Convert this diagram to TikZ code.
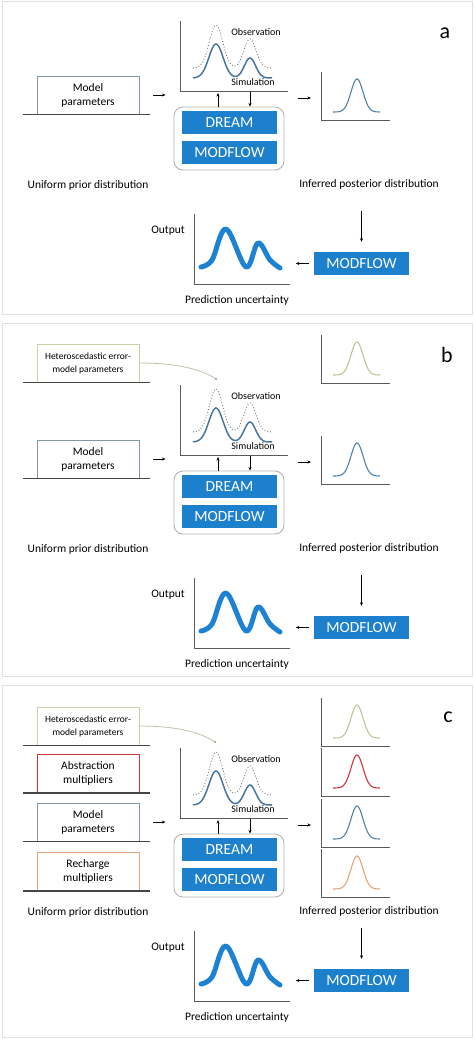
\documentclass[tikz,border=0pt]{standalone}
\usepackage{fontspec}
\setmainfont{Carlito}
\usetikzlibrary{arrows.meta}
\definecolor{bluec}{RGB}{28,128,205}
\definecolor{outc}{RGB}{30,130,210}
\definecolor{simc}{RGB}{72,118,158}
\definecolor{obsc}{RGB}{120,120,130}
\definecolor{postbluec}{RGB}{80,130,170}
\definecolor{greenc}{RGB}{185,200,150}
\definecolor{heteroc}{RGB}{200,208,165}
\definecolor{heterolinec}{RGB}{190,195,170}
\definecolor{redc}{RGB}{210,50,60}
\definecolor{orangec}{RGB}{228,165,125}
\definecolor{modelc}{RGB}{130,150,170}
\definecolor{panelc}{RGB}{225,225,225}
\definecolor{groupc}{RGB}{180,180,180}
\definecolor{basec}{RGB}{70,70,70}
\definecolor{axisc}{RGB}{90,90,90}
\tikzset{
  every node/.style={inner sep=0pt},
  lab/.style={font=\fontsize{11.5}{14}\selectfont},
  small/.style={font=\fontsize{10}{13}\selectfont},
  priorbox/.style={draw, line width=0.9pt, minimum width=102pt, minimum height=38pt, align=center, font=\fontsize{11.5}{14}\selectfont},
  hetbox/.style={priorbox, font=\fontsize{9.5}{13}\selectfont},
  groundline/.style={draw=basec, line width=1.2pt},
  axis/.style={draw=axisc, line width=0.9pt},
  bluebox/.style={fill=bluec, text=white, minimum width=95pt, minimum height=23pt, font=\fontsize{15.5}{18}\selectfont},
  groupbox/.style={draw=groupc, rounded corners=9pt, line width=0.9pt, minimum width=110pt, minimum height=63pt},
  arr/.style={-{Stealth[length=3.5pt,width=3pt]}, line width=0.7pt, draw=black},
  panelbox/.style={draw=panelc, line width=1pt},
  panellabel/.style={font=\fontsize{22}{24}\selectfont},
}
\newcommand\postplot[3]{%
  \coordinate (#1) at (321,#2+48);
  \draw[axis] (321,#2) -- (#1) -- (390,#2+48);
  \draw[#3, line width=1.1pt] plot[domain=333:380,samples=60] (\x,{#2+40-33*exp(-((\x-357)/8.5)^2)});
}
\newcommand\corepanel[3]{%
\begin{scope}[shift={(0,#2)}]
  \node[priorbox, draw=modelc] (#1-model) at (88,95) {Model\\parameters};
  \draw[groundline] ([xshift=-14pt]#1-model.south west) -- ([xshift=11pt]#1-model.south east);
  \node[lab] (#1-prior) at (88,185) {Uniform prior distribution};
  \coordinate (#1-obs) at (180,91);
  \draw[axis] (180,21) -- (#1-obs) -- (288,91);
  \draw[dotted, obsc, line width=0.9pt] plot[domain=193:272, samples=80] (\x, {68-43*exp(-((\x-216)/9.5)^2)-29*exp(-((\x-250)/8.5)^2)});
  \draw[simc, line width=1.5pt] plot[domain=193:272, samples=80] (\x,{78-34*exp(-((\x-216)/10)^2)-20*exp(-((\x-250)/8)^2)});
  \node[small] (#1-obstxt) at (256,32) {Observation};
  \node[small] (#1-simtxt) at (253,82) {Simulation};
  \node[groupbox] (#1-group) at (229,138.5) {};
  \node[bluebox] (#1-dream) at (229.5,122.5) {DREAM};
  \node[bluebox] (#1-mod) at (229.5,152.5) {MODFLOW};
  \coordinate (#1-up) at (218,93);
  \coordinate (#1-dn) at (250,92);
  \draw[arr] (#1-group.north -| #1-up) -- (#1-up);
  \draw[arr] (#1-dn) -- (#1-dn |- #1-group.north);
  \draw[arr] ([xshift=14pt]#1-model.east) -- ([xshift=26pt]#1-model.east);
  \coordinate (#1-outA) at (298,98);
  \coordinate (#1-outB) at (311,98);
  \draw[arr] (#1-outA) -- (#1-outB);
  \postplot{#1-post}{72}{postbluec}
  \node[lab] (#1-inferred) at (369,184) {Inferred posterior distribution};
\end{scope}
\begin{scope}[shift={(0,#3)}]
  \node[bluebox] (#1-modb) at (361.5,263.5) {MODFLOW};
  \draw[arr] ([yshift=41pt]#1-modb.north) -- ([yshift=10pt]#1-modb.north);
  \coordinate (#1-out) at (194,284);
  \draw[axis] (194,214) -- (#1-out) -- (290,284);
  \draw[outc, line width=5pt, line cap=round, line join=round] plot[smooth, tension=0.6] coordinates {(201,267) (212,260) (226,229) (246,267) (258,243) (270,260) (280,268)};
  \node[lab] (#1-output) at (168,231) {Output};
  \node[lab] (#1-pred) at (237,300) {Prediction uncertainty};
  \draw[arr] ([xshift=-5pt]#1-modb.west) -- ([xshift=-18pt]#1-modb.west);
\end{scope}
}
\begin{document}
\begin{tikzpicture}[x=1pt,y=-1pt]
\useasboundingbox[fill=white] (0,0) rectangle (474,1039);
% panel frames
\draw[panelbox] (2,1) rectangle (472,314);
\draw[panelbox] (2,323) rectangle (472,676);
\draw[panelbox] (2,685) rectangle (472,1037);
% panel a
\corepanel{a}{0}{0}
\node[panellabel] (la) at (445,33) {a};
% panel b
\corepanel{b}{364}{364}
\node[panellabel] (lb) at (447,355) {b};
\node[hetbox, draw=heteroc] (b-het) at (88,363) {Heteroscedastic error-\\model parameters};
\draw[groundline] ([xshift=-14pt]b-het.south west) -- ([xshift=11pt]b-het.south east);
\coordinate (b-hdot) at (216,379);
\draw[heterolinec, line width=0.8pt] (b-het.east) .. controls (176,363) and (201,369) .. (b-hdot);
\fill[heterolinec!80!black] (b-hdot) circle (1.2pt);
\postplot{b-posth}{335}{greenc}
% panel c
\corepanel{c}{727}{717}
\node[panellabel] (lc) at (448,717) {c};
\node[hetbox, draw=heteroc] (c-het) at (88,726) {Heteroscedastic error-\\model parameters};
\draw[groundline] ([xshift=-14pt]c-het.south west) -- ([xshift=11pt]c-het.south east);
\node[priorbox, draw=redc] (c-abs) at (88,773.5) {Abstraction\\multipliers};
\draw[groundline] ([xshift=-14pt]c-abs.south west) -- ([xshift=11pt]c-abs.south east);
\node[priorbox, draw=orangec] (c-rech) at (88,871.5) {Recharge\\multipliers};
\draw[groundline] ([xshift=-14pt]c-rech.south west) -- ([xshift=11pt]c-rech.south east);
\coordinate (c-hdot) at (215,742);
\draw[heterolinec, line width=0.8pt] (c-het.east) .. controls (176,726) and (200,732) .. (c-hdot);
\fill[heterolinec!80!black] (c-hdot) circle (1.2pt);
\postplot{c-posth}{698}{greenc}
\postplot{c-posta}{748}{redc}
\postplot{c-postr}{849}{orangec}
\end{tikzpicture}
\end{document}
